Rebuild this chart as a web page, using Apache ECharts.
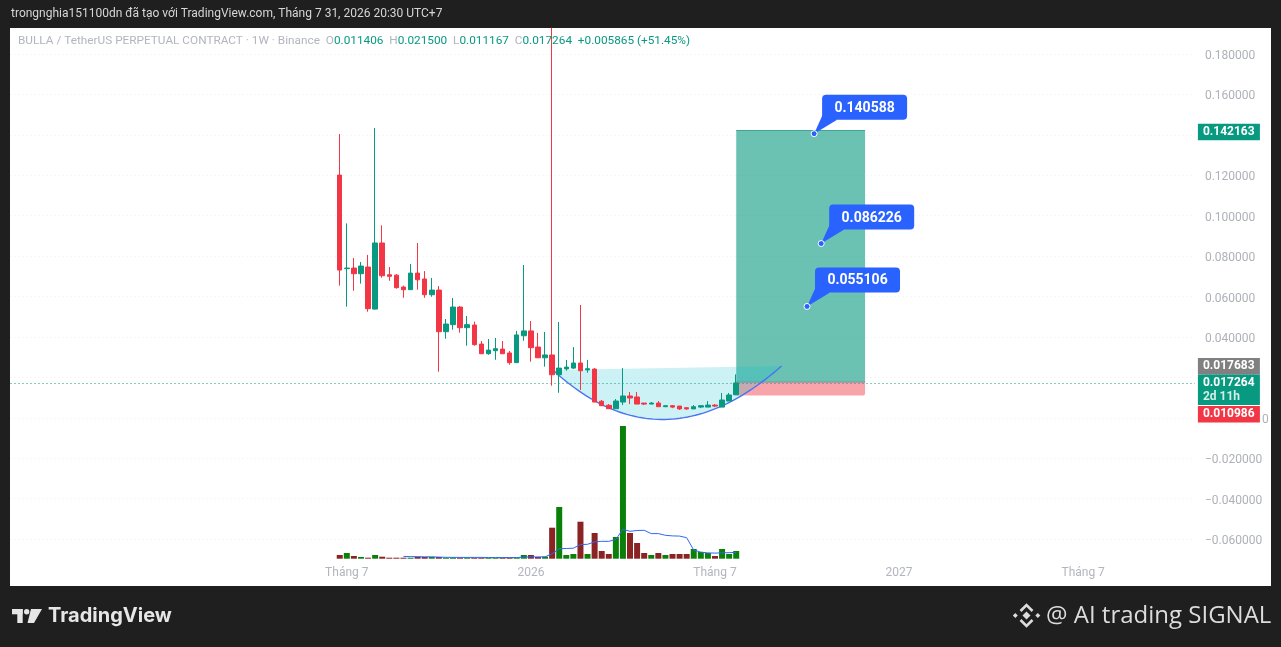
<!DOCTYPE html>
<html>
<head>
<meta charset="utf-8">
<script src="https://cdn.jsdelivr.net/npm/echarts@6/dist/echarts.min.js"></script>
<style>
html,body{margin:0;padding:0;background:#1f1f1f;}
#panel{position:absolute;left:10px;top:28px;width:1261px;height:558px;background:#ffffff;}
#c{position:absolute;left:0;top:0;width:1281px;height:647px;}
</style>
</head>
<body>
<div id="panel"></div>
<div id="c"></div>
<script>
// ---------------- data ----------------
const axisStartWeek = '2024-08-12';      // first (empty) weekly slot on the time axis
const axisWeekCount = 167;
const firstBarWeek = '2025-06-30';       // first weekly candle
const opens  = [0.1201,0.0738,0.0741,0.0713,0.0746,0.0538,0.0865,0.0708,0.0706,0.0647,
                0.0634,0.0716,0.0687,0.0609,0.0632,0.0426,0.0461,0.0548,0.0446,0.0459,
                0.0365,0.0317,0.0332,0.0340,0.0321,0.0273,0.0406,0.0430,0.0350,0.0297,
                0.0311,0.0213,0.0242,0.0246,0.0271,0.0237,0.0241,0.0082,0.0062,0.0045,
                0.0078,0.0108,0.0103,0.0073,0.0068,0.0073,0.0055,0.0060,0.0058,0.0050,
                0.0044,0.0053,0.0053,0.0063,0.0053,0.0083,0.011406];
const highs  = [0.1404,0.0962,0.0791,0.0771,0.0806,0.1434,0.0952,0.0746,0.0711,0.0654,
                0.0761,0.0865,0.0726,0.0692,0.0652,0.0489,0.0593,0.0553,0.0504,0.0476,
                0.0380,0.0390,0.0395,0.0380,0.0331,0.0430,0.0756,0.0479,0.0420,0.0425,
                0.1930,0.0474,0.0286,0.0350,0.0558,0.0286,0.0246,0.0088,0.0068,0.0093,
                0.0246,0.0128,0.0128,0.0073,0.0078,0.0083,0.0063,0.0063,0.0058,0.0053,
                0.0063,0.0063,0.0083,0.0068,0.0123,0.0123,0.021500];
const lows   = [0.0654,0.0550,0.0629,0.0664,0.0525,0.0535,0.0693,0.0678,0.0639,0.0594,
                0.0634,0.0634,0.0594,0.0599,0.0228,0.0391,0.0436,0.0421,0.0357,0.0357,
                0.0317,0.0312,0.0287,0.0317,0.0263,0.0273,0.0381,0.0278,0.0297,0.0253,
                0.0159,0.0124,0.0233,0.0242,0.0138,0.0223,0.0078,0.0058,0.0045,0.0045,
                0.0063,0.0068,0.0068,0.0063,0.0068,0.0055,0.0053,0.0048,0.0039,0.0039,
                0.0044,0.0048,0.0053,0.0053,0.0053,0.0083,0.011167];
const closes = [0.0731,0.0741,0.0713,0.0751,0.0540,0.0865,0.0703,0.0700,0.0644,0.0634,
                0.0716,0.0683,0.0609,0.0632,0.0426,0.0464,0.0548,0.0446,0.0461,0.0362,
                0.0317,0.0335,0.0342,0.0317,0.0273,0.0410,0.0430,0.0347,0.0297,0.0311,
                0.0213,0.0246,0.0251,0.0271,0.0233,0.0243,0.0078,0.0060,0.0045,0.0083,
                0.0108,0.0098,0.0068,0.0068,0.0073,0.0055,0.0060,0.0053,0.0044,0.0044,
                0.0055,0.0060,0.0063,0.0058,0.0088,0.0113,0.017264];
// weekly volume (millions)
const volumes = [3.7,5.7,2.7,1.7,1.0,3.7,2.0,1.0,1.0,1.0,
                 1.0,2.0,1.7,1.7,1.7,1.0,1.0,1.0,1.0,1.0,
                 1.0,1.0,1.0,1.0,1.0,1.0,3.7,3.7,1.7,2.0,
                 31.0,51.7,3.7,4.7,37.0,4.7,25.7,7.7,4.7,21.7,
                 132.7,25.7,15.7,5.7,3.7,5.7,3.7,4.7,4.7,4.7,
                 9.7,6.7,5.7,2.7,9.7,4.7,7.7];
// volume moving average as drawn (starts on the 10th candle)
const volumeMA = [null,null,null,null,null,null,null,null,null,2.3,
                  2.1,2.0,1.9,1.9,1.6,1.4,1.3,1.3,1.3,1.3,
                  1.3,1.2,1.2,1.2,1.2,1.2,1.5,1.8,1.8,1.9,
                  4.9,10.0,10.2,10.5,14.1,14.4,16.8,17.4,17.3,19.3,
                  29.4,27.4,28.2,28.4,25.1,25.1,23.4,22.8,22.6,21.0,
                  8.6,6.6,5.8,5.6,5.9,6.0,6.4];
const xTickLabels = {'2025-07-07':'Tháng 7','2026-01-05':'2026','2026-07-06':'Tháng 7','2027-01-04':'2027','2027-07-05':'Tháng 7'};
const priceMin = -0.08, priceMax = 0.20, priceStep = 0.02;
const lastPrice = 0.017264;
// long position tool (week index on the time axis, prices)
const positionWeeks = [102, 120.2];
const entryPrice = 0.017683, targetPrice = 0.142163, stopPrice = 0.010986;
// rounding-bottom arc drawing: [week index, price] start / lowest / end
const arcPoints = [[76.1, 0.0237], [91.9, -0.0008], [108.4, 0.0256]];
// callout labels: week index, price
const calloutWeeks  = [113, 114, 112];
const calloutPrices = [0.140588, 0.086226, 0.055106];
// right-scale price tags
const tagPrices = [targetPrice, entryPrice, lastPrice, stopPrice];
const tagTexts  = ['0.142163', '0.017683', '0.017264', '0.010986'];
const countdownText = '2d 11h';
const headerText = 'trongnghia151100dn đã tạo với TradingView.com, Tháng 7 31, 2026 20:30 UTC+7';
const legendName = 'BULLA / TetherUS PERPETUAL CONTRACT · 1W · Binance';
const legendOHLC = ['0.011406','0.021500','0.011167','0.017264','+0.005865 (+51.45%)'];

// ---------------- build ----------------
function buildWeeks(start, n){
  const out = []; const t0 = new Date(start + 'T00:00:00Z').getTime();
  for (let i = 0; i < n; i++) out.push(new Date(t0 + i*7*864e5).toISOString().slice(0,10));
  return out;
}
const weeks = buildWeeks(axisStartWeek, axisWeekCount);
const first = weeks.indexOf(firstBarWeek);
const UP = '#089981', DOWN = '#f23645';
const VUP = '#0a800a', VDOWN = '#8a2323';
const candleData = weeks.map(()=>'-');
const volData = weeks.map(()=>'-');
const maData = weeks.map(()=>null);
opens.forEach((o,i)=>{
  candleData[first+i] = [o, closes[i], lows[i], highs[i]];
  volData[first+i] = {value: volumes[i], itemStyle:{color: closes[i] >= o ? VUP : VDOWN}};
  maData[first+i] = volumeMA[i];
});

function fmtPrice(v){
  if (Math.abs(v) < 1e-9) return '{z|0}';
  if (v > priceMax - 1e-6 || v < priceMin + 1e-6) return '';
  return (v < 0 ? '\u2212' : '') + Math.abs(v).toFixed(6);
}

const gridL = 10.5, gridW = 1182.4;
const chart = echarts.init(document.getElementById('c'), null, {renderer:'canvas'});
const labelFont = 'Roboto, "Noto Sans", sans-serif';

const option = {
  animation: false,
  backgroundColor: 'transparent',
  grid: [
    {left: gridL, width: gridW, top: 13.6, height: 565.9},
    {left: gridL, width: gridW, top: 28, height: 530.7}
  ],
  xAxis: [
    {type:'category', gridIndex:0, data:weeks, boundaryGap:true, show:false},
    {type:'category', gridIndex:1, data:weeks, boundaryGap:true,
     axisLine:{show:false}, axisTick:{show:false}, splitLine:{show:false},
     axisLabel:{interval:0, margin:8, color:'#b2b5be', fontSize:12, fontFamily:labelFont,
       formatter:(v)=> xTickLabels[v] || ''}},
    {type:'value', gridIndex:0, min:-0.5, max:axisWeekCount-0.5, show:false}
  ],
  yAxis: [
    {type:'value', gridIndex:0, position:'right', min:priceMin, max:priceMax, interval:priceStep,
     axisLine:{show:false}, axisTick:{show:false},
     splitLine:{show:true, showMinLine:false, showMaxLine:false, lineStyle:{color:'#eceef2', type:[1,3], width:1}},
     axisLabel:{margin:12, color:'#aeb1b8', fontSize:12, fontFamily:labelFont, align:'left', padding:[4,0,0,0],
       formatter: fmtPrice, rich:{z:{padding:[0,0,0,57], color:'#aeb1b8', fontSize:12, fontFamily:labelFont}}}},
    {type:'value', gridIndex:1, min:0, max:530.7, show:false}
  ],
  series: [
    { // long position tool
      type:'custom', xAxisIndex:2, yAxisIndex:0, z:2, silent:true,
      data:[[positionWeeks[0], positionWeeks[1], entryPrice, targetPrice, stopPrice]],
      encode:{x:[0,1], y:[2,3,4]},
      renderItem:(params, api)=>{
        const a = api.coord([api.value(0), api.value(3)]);
        const b = api.coord([api.value(1), api.value(2)]);
        const c = api.coord([api.value(1), api.value(4)]);
        return {type:'group', children:[
          {type:'rect', shape:{x:a[0], y:a[1], width:b[0]-a[0], height:b[1]-a[1]}, style:{fill:'rgba(8,153,129,0.6)'}},
          {type:'rect', shape:{x:a[0], y:b[1], width:b[0]-a[0], height:c[1]-b[1], r:[0,0,2,0]}, style:{fill:'rgba(242,54,69,0.45)'}},
          {type:'line', shape:{x1:a[0], y1:a[1], x2:b[0], y2:a[1]}, style:{stroke:'#3fa592', lineWidth:1}},
          {type:'line', shape:{x1:a[0], y1:b[1], x2:b[0], y2:b[1]}, style:{stroke:'#8a8d96', lineWidth:1}}
        ]};
      }
    },
    { // rounding bottom arc
      type:'custom', xAxisIndex:2, yAxisIndex:0, z:3, silent:true,
      data:[arcPoints.flat()],
      encode:{x:[0,2,4], y:[1,3,5]},
      renderItem:(params, api)=>{
        const p0 = api.coord([api.value(0), api.value(1)]);
        const m  = api.coord([api.value(2), api.value(3)]);
        const p2 = api.coord([api.value(4), api.value(5)]);
        const cp = [2*m[0]-(p0[0]+p2[0])/2, 2*m[1]-(p0[1]+p2[1])/2];
        const pts = [];
        for (let k=0;k<=60;k++){
          const t=k/60, u=1-t;
          pts.push([u*u*p0[0]+2*u*t*cp[0]+t*t*p2[0], u*u*p0[1]+2*u*t*cp[1]+t*t*p2[1]]);
        }
        return {type:'group', children:[
          {type:'polygon', shape:{points:pts}, style:{fill:'rgba(0,188,212,0.2)'}},
          {type:'polyline', shape:{points:pts}, style:{stroke:'#4a74f2', lineWidth:1.4, fill:null}}
        ]};
      }
    },
    { // current price dotted line
      type:'custom', xAxisIndex:2, yAxisIndex:0, z:4, silent:true,
      data:[[0, lastPrice]],
      renderItem:(params, api)=>{
        const cs = params.coordSys;
        const y = Math.round(api.coord([0, api.value(1)])[1]) + 0.5;
        return {type:'line', shape:{x1:cs.x, y1:y, x2:cs.x+cs.width+2, y2:y},
          style:{stroke:UP, lineWidth:1, lineDash:[1,3]}};
      }
    },
    {
      type:'candlestick', xAxisIndex:0, yAxisIndex:0, z:5, barWidth:5,
      data:candleData,
      itemStyle:{color:UP, color0:DOWN, borderColor:UP, borderColor0:DOWN, borderWidth:1}
    },
    {
      type:'bar', xAxisIndex:1, yAxisIndex:1, z:5, barWidth:6, data:volData
    },
    {
      type:'line', xAxisIndex:1, yAxisIndex:1, z:6, data:maData, showSymbol:false,
      connectNulls:false, lineStyle:{color:'#2f68f5', width:1}, itemStyle:{color:'#2f68f5'}
    },
    { // callouts
      type:'custom', xAxisIndex:2, yAxisIndex:0, z:8, silent:true,
      data: calloutWeeks.map((w,i)=>[w, calloutPrices[i]]),
      renderItem:(params, api)=>{
        const p = api.coord([api.value(0), api.value(1)]);
        const bx = p[0]+8, bw = 85, bh = 25, by = p[1]-14-bh;
        const txt = api.value(1).toFixed(6);
        return {type:'group', children:[
          {type:'polygon', shape:{points:[[bx+1, by+bh-6],[bx+15, by+bh],[p[0],p[1]]]}, style:{fill:'#2962ff'}},
          {type:'rect', shape:{x:bx, y:by, width:bw, height:bh, r:4}, style:{fill:'#2962ff'}},
          {type:'text', style:{x:bx+bw/2, y:by+bh/2+1, text:txt, fill:'#ffffff', font:'bold 14px Roboto, sans-serif', align:'center', verticalAlign:'middle'}},
          {type:'circle', shape:{cx:p[0], cy:p[1], r:3}, style:{fill:'#2962ff', stroke:'#ffffff', lineWidth:1}}
        ]};
      }
    },
    { // price tags on the right scale
      type:'custom', xAxisIndex:2, yAxisIndex:0, z:10, silent:true,
      data: tagPrices.map((p)=>[0, p]),
      renderItem:(params, api)=>{
        const i = params.dataIndex;
        const cs = params.coordSys;
        const y = api.coord([0, api.value(1)])[1];
        const colors = ['#089981','#808080','#089981','#f23645'];
        const shifts = [1.5, -16, 0, 18.7];
        const x = cs.x + cs.width + 5, w = 62;
        const cy = y + shifts[i];
        const children = [];
        if (i === 2){
          children.push({type:'rect', shape:{x:x, y:cy-8.5, width:w, height:30.5}, style:{fill:colors[i]}});
          children.push({type:'text', style:{x:x+5, y:cy, text:tagTexts[i], fill:'#ffffff', font:'bold 12px Roboto, sans-serif', verticalAlign:'middle'}});
          children.push({type:'text', style:{x:x+5, y:cy+14.5, text:countdownText, fill:'#d3ede8', font:'bold 12px Roboto, sans-serif', verticalAlign:'middle'}});
        } else {
          children.push({type:'rect', shape:{x:x, y:cy-8.2, width:w, height:16.5}, style:{fill:colors[i]}});
          children.push({type:'text', style:{x:x+5, y:cy, text:tagTexts[i], fill:'#ffffff', font:'bold 12px Roboto, sans-serif', verticalAlign:'middle'}});
        }
        return {type:'group', children};
      }
    }
  ],
  graphic: [
    {type:'text', left:11, top:8, z:20, style:{text:headerText, fill:'#d6d6d6', font:'12px Roboto, sans-serif'}},
    {type:'text', left:18, top:35, z:20, style:{
      text: '{n|' + legendName + '}  {n|O}{v|' + legendOHLC[0] + '}  {n|H}{v|' + legendOHLC[1] + '}  {n|L}{v|' + legendOHLC[2] + '}  {n|C}{v|' + legendOHLC[3] + '}  {v|' + legendOHLC[4] + '}',
      font:'11.8px Roboto, sans-serif', fill:'#b2b5be',
      rich:{n:{fill:'#b2b5be', font:'11.8px Roboto, sans-serif'}, v:{fill:'#089981', font:'11.8px Roboto, sans-serif'}}}},
    // TradingView logo
    {type:'group', z:20, children:[
      {type:'rect', shape:{x:12, y:609, width:10.7, height:5.3}, style:{fill:'#e6e6e6'}},
      {type:'rect', shape:{x:17.3, y:609, width:5.4, height:14}, style:{fill:'#e6e6e6'}},
      {type:'circle', shape:{cx:26.7, cy:611.7, r:2.7}, style:{fill:'#e6e6e6'}},
      {type:'polygon', shape:{points:[[31,609],[42,609],[34,623],[27.5,623]]}, style:{fill:'#e6e6e6'}}
    ]},
    {type:'text', left:48, top:606, z:20, style:{text:'TradingView', fill:'#e6e6e6', font:'bold 20px Inter, Roboto, sans-serif'}},
    // Binance-style icon
    {type:'group', z:20, children:[
      {type:'polygon', shape:{points:[[1026.5,611.5],[1030.5,615.5],[1026.5,619.5],[1022.5,615.5]]}, style:{fill:'#dcdcdc'}},
      {type:'polygon', shape:{points:[[1015.3,613],[1017.8,615.5],[1015.3,618],[1012.8,615.5]]}, style:{fill:'#dcdcdc'}},
      {type:'polygon', shape:{points:[[1037.8,613],[1040.3,615.5],[1037.8,618],[1035.3,615.5]]}, style:{fill:'#dcdcdc'}},
      {type:'polyline', shape:{points:[[1020.5,611],[1026.5,605],[1032.5,611]]}, style:{stroke:'#dcdcdc', lineWidth:2.6, fill:null}},
      {type:'polyline', shape:{points:[[1020.5,620],[1026.5,626],[1032.5,620]]}, style:{stroke:'#dcdcdc', lineWidth:2.6, fill:null}}
    ]},
    {type:'text', left:1046, top:604, z:20, style:{text:'@ AI trading SIGNAL', fill:'#dcdcdc', font:'24px "Open Sans", "Noto Sans", sans-serif'}}
  ]
};
chart.setOption(option);
</script>
</body>
</html>
